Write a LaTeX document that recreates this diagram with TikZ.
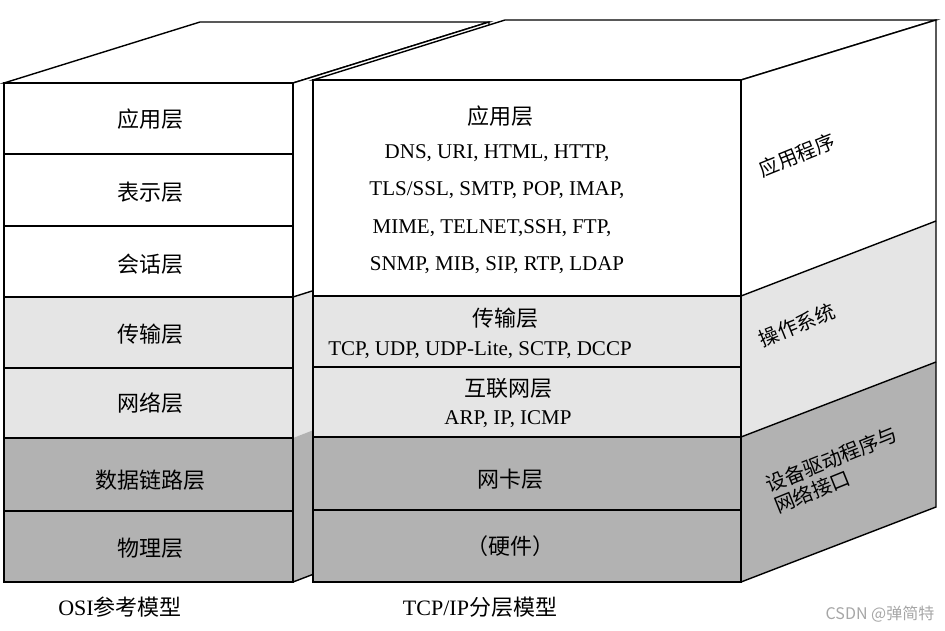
\documentclass[tikz,border=0pt]{standalone}
\usepackage{fontspec}
\setmainfont{Liberation Serif}
\newfontfamily\cjk{Noto Sans CJK SC}
\begin{document}
\begin{tikzpicture}[x=1pt,y=-1pt,line width=1.4pt,line join=miter,
  lab/.style={font=\fontsize{22}{26}\selectfont\cjk},
  lat/.style={font=\fontsize{21}{24}\selectfont},
  side/.style={font=\fontsize{20}{23}\selectfont\cjk,rotate=22,align=left,inner sep=1pt},
  light/.style={fill=black!10},
  dark/.style={fill=black!30}]
\useasboundingbox (0,0) rectangle (945,630);
% left box
\coordinate (LA) at (4,83); \coordinate (LB) at (293,83);
\filldraw[fill=white] (LA) -- (200,22) -- (489,22) -- (LB) -- cycle;
\fill[white] (LB) -- (489,22) -- (489,507) -- (293,582) -- cycle;
\fill[black!10] (293,297) -- (489,235) -- (489,362) -- (293,438) -- cycle;
\fill[black!30] (293,438) -- (489,362) -- (489,507) -- (293,582) -- cycle;
\draw (LB) -- (489,22) -- (489,507) -- (293,582);
\draw (293,297) -- (489,235);
\fill[white] (4,83) rectangle (293,297);
\fill[black!10] (4,297) rectangle (293,438);
\fill[black!30] (4,438) rectangle (293,582);
\draw (4,83) rectangle (293,582);
\foreach \y in {154,226,297,368,438,511} \draw (4,\y) -- (293,\y);
% right box
\filldraw[fill=white] (313,80) -- (505,20) -- (936,20) -- (741,80) -- cycle;
\fill[white] (741,80) -- (936,20) -- (936,221) -- (741,296) -- cycle;
\fill[black!10] (741,296) -- (936,221) -- (936,362) -- (741,437) -- cycle;
\fill[black!30] (741,437) -- (936,362) -- (936,507) -- (741,582) -- cycle;
\draw (741,80) -- (936,20) -- (936,507) -- (741,582);
\draw (741,296) -- (936,221);
\draw (741,437) -- (936,362);
\fill[white] (313,80) rectangle (741,296);
\fill[black!10] (313,296) rectangle (741,437);
\fill[black!30] (313,437) rectangle (741,582);
\draw (313,80) rectangle (741,582);
\foreach \y in {296,367,437,510} \draw (313,\y) -- (741,\y);
% left labels
\node[lab] (o1) at (150,119) {应用层};
\node[lab] (o2) at (150,192) {表示层};
\node[lab] (o3) at (150,264) {会话层};
\node[lab] (o4) at (150,334) {传输层};
\node[lab] (o5) at (150,403) {网络层};
\node[lab] (o6) at (150,480) {数据链路层};
\node[lab] (o7) at (150,548) {物理层};
% right labels
\node[lab] (t1) at (500,116) {应用层};
\node[lat] (t2) at (497,153) {DNS, URI, HTML, HTTP,};
\node[lat] (t3) at (497,190) {TLS/SSL, SMTP, POP, IMAP,};
\node[lat] (t4) at (492,228) {MIME, TELNET,SSH, FTP,};
\node[lat] (t5) at (497,265) {SNMP, MIB, SIP, RTP, LDAP};
\node[lab] (t6) at (505,318) {传输层};
\node[lat] (t7) at (480,350) {TCP, UDP, UDP-Lite, SCTP, DCCP};
\node[lab] (t8) at (508,388) {互联网层};
\node[lat] (t9) at (508,419) {ARP, IP, ICMP};
\node[lab] (t10) at (510,479) {网卡层};
\node[lab] (t11) at (510,546) {（硬件）};
% side labels
\node[side] (s1) at (797,155) {应用程序};
\node[side] (s2) at (797,325) {操作系统};
\node[side] (s3) at (836,470) {设备驱动程序与\\网络接口};
% captions
\node[font=\fontsize{22}{24}\selectfont] (c1) at (120,607) {OSI{\cjk 参考模型}};
\node[font=\fontsize{22}{24}\selectfont] (c2) at (480,607) {TCP/IP{\cjk 分层模型}};
\node[font=\fontsize{16}{18}\selectfont\cjk,text=black!35] (w) at (880,614) {CSDN @弹简特};
\end{tikzpicture}
\end{document}
